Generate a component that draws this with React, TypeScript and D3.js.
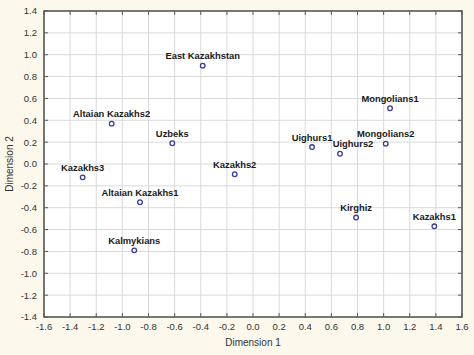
import React from "react";
import * as d3 from "d3";

const names = [
  "East Kazakhstan",
  "Altaian Kazakhs2",
  "Uzbeks",
  "Kazakhs3",
  "Kazakhs2",
  "Altaian Kazakhs1",
  "Kalmykians",
  "Uighurs1",
  "Uighurs2",
  "Mongolians1",
  "Mongolians2",
  "Kirghiz",
  "Kazakhs1",
];
const dim1 = [-0.385, -1.082, -0.618, -1.304, -0.14, -0.865, -0.909, 0.452, 0.666, 1.049, 1.016, 0.789, 1.388];
const dim2 = [0.9, 0.369, 0.19, -0.122, -0.094, -0.35, -0.79, 0.155, 0.094, 0.51, 0.186, -0.49, -0.57];
const labelShift: Record<string, number> = { Uighurs2: 13 };

const xTicks = d3.range(-8, 9).map((i) => i * 0.2);
const yTicks = d3.range(-7, 8).map((i) => i * 0.2);

const W = 474;
const H = 355;
const L = 44, R = 462, T = 11, B = 317;

const fmt = (v: number) => {
  const s = v.toFixed(1);
  return s === "-0.0" ? "0.0" : s;
};

export default function App() {
  const x = d3.scaleLinear().domain([-1.6, 1.6]).range([L, R]);
  const y = d3.scaleLinear().domain([-1.4, 1.4]).range([B, T]);
  const font = "Arial, 'Liberation Sans', sans-serif";
  const frame = "#5a5a5a";
  return (
    <svg
      width={W}
      height={H}
      style={{ position: "absolute", left: 0, top: 0, background: "#fdf8ec" }}
      fontFamily={font}
    >
      <rect x={0} y={0} width={W} height={H} fill="#fdf8ec" />
      <rect x={L} y={T} width={R - L} height={B - T} fill="#ffffff" />
      {xTicks.map((t, i) => (
        <line key={"gx" + i} x1={x(t)} x2={x(t)} y1={T} y2={B} stroke="#dadada" strokeWidth={1} />
      ))}
      {yTicks.map((t, i) => (
        <line key={"gy" + i} x1={L} x2={R} y1={y(t)} y2={y(t)} stroke="#dadada" strokeWidth={1} />
      ))}
      {xTicks.map((t, i) => (
        <g key={"tx" + i}>
          <line x1={x(t)} x2={x(t)} y1={B} y2={B - 4} stroke={frame} strokeWidth={1} />
          <line x1={x(t)} x2={x(t)} y1={T} y2={T + 4} stroke={frame} strokeWidth={1} />
          <text x={x(t)} y={330} fontSize={9.5} fill="#333" textAnchor="middle">
            {fmt(t)}
          </text>
        </g>
      ))}
      {yTicks.map((t, i) => (
        <g key={"ty" + i}>
          <line x1={L} x2={L + 4} y1={y(t)} y2={y(t)} stroke={frame} strokeWidth={1} />
          <line x1={R} x2={R - 4} y1={y(t)} y2={y(t)} stroke={frame} strokeWidth={1} />
          <text x={37} y={y(t) + 3.4} fontSize={9.5} fill="#333" textAnchor="end">
            {fmt(t)}
          </text>
        </g>
      ))}
      <rect x={L} y={T} width={R - L} height={B - T} fill="none" stroke={frame} strokeWidth={1.6} />
      <text x={(L + R) / 2} y={346} fontSize={10} fill="#333" textAnchor="middle">
        Dimension 1
      </text>
      <text
        transform={`translate(13, ${(T + B) / 2}) rotate(-90)`}
        fontSize={10}
        fill="#333"
        textAnchor="middle"
      >
        Dimension 2
      </text>
      {names.map((n, i) => (
        <g key={n}>
          <circle cx={x(dim1[i])} cy={y(dim2[i])} r={2.3} fill="#fff" stroke="#3a3aa0" strokeWidth={1.3} />
          <text
            x={x(dim1[i]) + (labelShift[n] || 0)}
            y={y(dim2[i]) - 6.3}
            fontSize={9.4}
            fontWeight="bold"
            fill="#1a1a1a"
            textAnchor="middle"
          >
            {n}
          </text>
        </g>
      ))}
    </svg>
  );
}
